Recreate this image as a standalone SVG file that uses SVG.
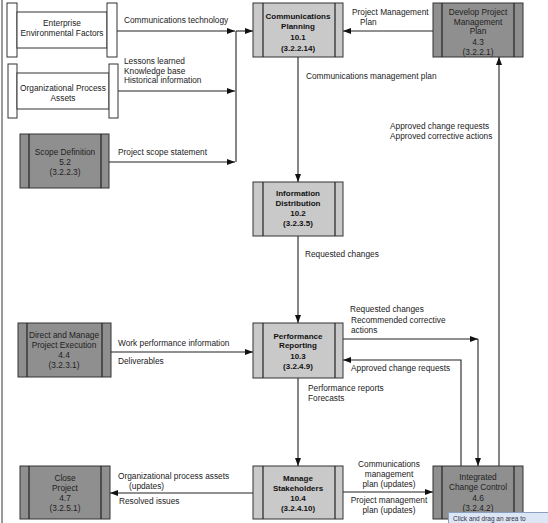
<svg xmlns="http://www.w3.org/2000/svg" width="548" height="523" viewBox="0 0 548 523">
<defs>
<style>
text{font-family:"Liberation Sans",Arial,sans-serif;font-size:8.3px;fill:#222}
.b{font-weight:bold;fill:#111;font-size:8px}
.c{text-anchor:middle}
.light{fill:#c9c9c9;stroke:#333;stroke-width:1}
.dark{fill:#8f8f8f;stroke:#333;stroke-width:1}
.store{fill:#fff;stroke:#333;stroke-width:1}
.div{stroke:#222;stroke-width:1.2}
.ln{fill:none;stroke:#222;stroke-width:1.1}
</style>
<marker id="ah" viewBox="0 0 8 6" refX="8" refY="3" markerWidth="8" markerHeight="6" markerUnits="userSpaceOnUse" orient="auto">
<path d="M0,0 L8,3 L0,6 z" fill="#111"/>
</marker>
</defs>
<rect width="548" height="523" fill="#fff"/>
<line x1="2" y1="0" x2="2" y2="523" stroke="#9a9a9a" stroke-width="2"/>

<g id="connectors">
<line class="ln" x1="117" y1="31" x2="235" y2="31" marker-end="url(#ah)"/>
<line class="ln" x1="118" y1="91" x2="235" y2="91" marker-end="url(#ah)"/>
<line class="ln" x1="109" y1="162" x2="235" y2="162" marker-end="url(#ah)"/>
<line class="ln" x1="236" y1="31" x2="236" y2="162"/>
<line class="ln" x1="236" y1="31" x2="253" y2="31" marker-end="url(#ah)"/>
<line class="ln" x1="433" y1="31" x2="343" y2="31" marker-end="url(#ah)"/>
<line class="ln" x1="298" y1="57" x2="298" y2="182" marker-end="url(#ah)"/>
<line class="ln" x1="298" y1="236" x2="298" y2="323" marker-end="url(#ah)"/>
<line class="ln" x1="298" y1="378" x2="298" y2="466" marker-end="url(#ah)"/>
<line class="ln" x1="111" y1="352" x2="253" y2="352" marker-end="url(#ah)"/>
<line class="ln" x1="343" y1="339" x2="478" y2="339" marker-end="url(#ah)"/>
<line class="ln" x1="478" y1="339" x2="478" y2="466" marker-end="url(#ah)"/>
<polyline class="ln" points="461,466 461,360 343,360" marker-end="url(#ah)"/>
<line class="ln" x1="499" y1="466" x2="499" y2="57" marker-end="url(#ah)"/>
<line class="ln" x1="343" y1="492" x2="433" y2="492" marker-end="url(#ah)"/>
<line class="ln" x1="253" y1="493" x2="110" y2="493" marker-end="url(#ah)"/>

<text x="124" y="23">Communications technology</text>
<text x="124" y="64">Lessons learned</text>
<text x="124" y="74">Knowledge base</text>
<text x="124" y="83">Historical information</text>
<text x="118" y="155">Project scope statement</text>
<text x="352" y="15">Project Management</text>
<text x="360" y="25">Plan</text>
<text x="306" y="79">Communications management plan</text>
<text x="390" y="129">Approved change requests</text>
<text x="390" y="139">Approved corrective actions</text>
<text x="305" y="257">Requested changes</text>
<text x="350" y="312">Requested changes</text>
<text x="351" y="323">Recommended corrective</text>
<text x="351" y="333">actions</text>
<text x="351" y="371">Approved change requests</text>
<text x="118" y="346">Work performance information</text>
<text x="118" y="364">Deliverables</text>
<text x="308" y="391">Performance reports</text>
<text x="308" y="401">Forecasts</text>
<text class="c" x="389" y="467">Communications</text>
<text class="c" x="389" y="477">management</text>
<text class="c" x="389" y="487">plan (updates)</text>
<text class="c" x="389" y="503">Project management</text>
<text class="c" x="389" y="513">plan (updates)</text>
<text x="118" y="479">Organizational process assets</text>
<text x="129" y="489">(updates)</text>
<text x="119" y="504">Resolved issues</text>
</g>

<g id="eef">
<rect class="store" x="7" y="3" width="10" height="54"/>
<rect class="store" x="17" y="12" width="90" height="36"/>
<rect class="store" x="107" y="3" width="10" height="54"/>
<text class="c" x="62" y="26">Enterprise</text>
<text class="c" x="62" y="36">Environmental Factors</text>
</g>

<g id="opa">
<rect class="store" x="8" y="64" width="9" height="54"/>
<rect class="store" x="17" y="73" width="92" height="36"/>
<rect class="store" x="109" y="64" width="9" height="54"/>
<text class="c" x="63" y="91">Organizational Process</text>
<text class="c" x="63" y="101">Assets</text>
</g>

<g id="scope">
<rect class="dark" x="20" y="134" width="89" height="54"/>
<line class="div" x1="29" y1="134" x2="29" y2="188"/>
<line class="div" x1="101" y1="134" x2="101" y2="188"/>
<text class="c" x="65" y="155">Scope Definition</text>
<text class="c" x="65" y="165">5.2</text>
<text class="c" x="65" y="175">(3.2.2.3)</text>
</g>

<g id="cp">
<rect class="light" x="253" y="3" width="90" height="54"/>
<line class="div" x1="263" y1="3" x2="263" y2="57"/>
<line class="div" x1="335" y1="3" x2="335" y2="57"/>
<text class="c b" x="298" y="19">Communications</text>
<text class="c b" x="298" y="29">Planning</text>
<text class="c b" x="298" y="40">10.1</text>
<text class="c b" x="298" y="51">(3.2.2.14)</text>
</g>

<g id="dpmp">
<rect class="dark" x="433" y="3" width="90" height="54"/>
<line class="div" x1="442" y1="3" x2="442" y2="57"/>
<line class="div" x1="514" y1="3" x2="514" y2="57"/>
<text class="c" x="478" y="15">Develop Project</text>
<text class="c" x="478" y="25">Management</text>
<text class="c" x="478" y="34">Plan</text>
<text class="c" x="478" y="45">4.3</text>
<text class="c" x="478" y="55">(3.2.2.1)</text>
</g>

<g id="id">
<rect class="light" x="253" y="182" width="90" height="54"/>
<line class="div" x1="263" y1="182" x2="263" y2="236"/>
<line class="div" x1="335" y1="182" x2="335" y2="236"/>
<text class="c b" x="298" y="196">Information</text>
<text class="c b" x="298" y="206">Distribution</text>
<text class="c b" x="298" y="216">10.2</text>
<text class="c b" x="298" y="226">(3.2.3.5)</text>
</g>

<g id="dmpe">
<rect class="dark" x="18" y="323" width="93" height="54"/>
<line class="div" x1="27" y1="323" x2="27" y2="377"/>
<line class="div" x1="102" y1="323" x2="102" y2="377"/>
<text class="c" x="64" y="338">Direct and Manage</text>
<text class="c" x="64" y="348">Project Execution</text>
<text class="c" x="64" y="358">4.4</text>
<text class="c" x="64" y="368">(3.2.3.1)</text>
</g>

<g id="pr">
<rect class="light" x="253" y="323" width="90" height="55"/>
<line class="div" x1="263" y1="323" x2="263" y2="378"/>
<line class="div" x1="335" y1="323" x2="335" y2="378"/>
<text class="c b" x="298" y="339">Performance</text>
<text class="c b" x="298" y="348">Reporting</text>
<text class="c b" x="298" y="359">10.3</text>
<text class="c b" x="298" y="369">(3.2.4.9)</text>
</g>

<g id="close">
<rect class="dark" x="20" y="466" width="90" height="53"/>
<line class="div" x1="29" y1="466" x2="29" y2="519"/>
<line class="div" x1="101" y1="466" x2="101" y2="519"/>
<text class="c" x="65" y="481">Close</text>
<text class="c" x="65" y="491">Project</text>
<text class="c" x="65" y="501">4.7</text>
<text class="c" x="65" y="511">(3.2.5.1)</text>
</g>

<g id="ms">
<rect class="light" x="253" y="466" width="90" height="53"/>
<line class="div" x1="263" y1="466" x2="263" y2="519"/>
<line class="div" x1="335" y1="466" x2="335" y2="519"/>
<text class="c b" x="298" y="481">Manage</text>
<text class="c b" x="298" y="491">Stakeholders</text>
<text class="c b" x="298" y="501">10.4</text>
<text class="c b" x="298" y="511">(3.2.4.10)</text>
</g>

<g id="icc">
<rect class="dark" x="433" y="466" width="90" height="53"/>
<line class="div" x1="442" y1="466" x2="442" y2="519"/>
<line class="div" x1="514" y1="466" x2="514" y2="519"/>
<text class="c" x="478" y="480">Integrated</text>
<text class="c" x="478" y="490">Change Control</text>
<text class="c" x="478" y="501">4.6</text>
<text class="c" x="478" y="511">(3.2.4.2)</text>
</g>

<g id="tooltip">
<rect x="448.500" y="512.500" width="100" height="12" fill="#dde6f4" stroke="#8aa0c0" stroke-width="1"/>
<text x="453" y="521" style="font-size:6.5px;fill:#334">Click and drag an area to</text>
</g>
</svg>
